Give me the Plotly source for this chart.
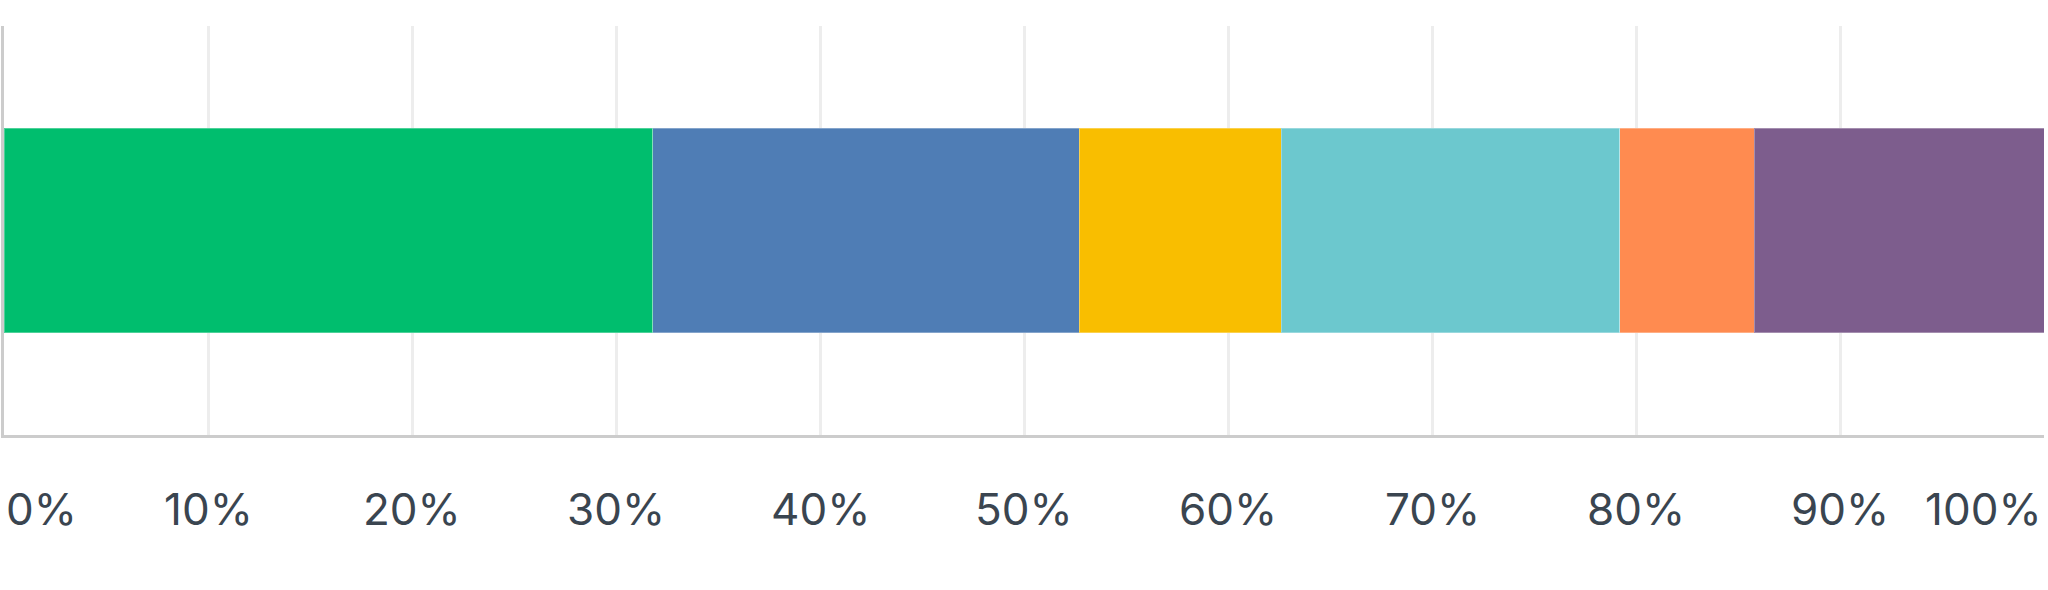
import plotly.graph_objects as go

# one stacked 100% bar, share of each segment
segments = ["A", "B", "C", "D", "E", "F"]
shares = [31.8, 20.9, 9.9, 16.6, 6.6, 14.2]
colors = ["#00be6e", "#4f7db5", "#f9be00", "#6cc8ce", "#ff8b50", "#7d5d8d"]

tick_vals = [0, 10, 20, 30, 40, 50, 60, 70, 80, 90, 100]
tick_text = ["0%", "10%", "20%", "30%", "40%", "50%", "60%", "70%", "80%", "90%", "100%"]

fig = go.Figure()

for name, val, col in zip(segments, shares, colors):
    fig.add_trace(
        go.Bar(
            x=[val],
            y=["row"],
            orientation="h",
            name=name,
            marker=dict(color=col, line=dict(color="rgba(255,255,255,0.3)", width=1)),
            hovertemplate=name + ": %{x}%<extra></extra>",
        )
    )

# tick labels as annotations so the end ones stay inside the plot
for v, t in zip(tick_vals, tick_text):
    anchor = "center"
    if v == tick_vals[0]:
        anchor = "left"
    elif v == tick_vals[-1]:
        anchor = "right"
    fig.add_annotation(
        x=v, y=0, xref="x", yref="paper",
        text=t, showarrow=False,
        xanchor=anchor, yanchor="middle", yshift=-74,
        font=dict(family="Inter", size=44, color="#3a4550"),
    )

fig.update_layout(
    barmode="stack",
    bargap=0.5,
    width=2048,
    height=590,
    margin=dict(l=4, r=4, t=26, b=155),
    showlegend=False,
    plot_bgcolor="white",
    paper_bgcolor="white",
)

fig.update_xaxes(
    range=[0, 100],
    tickvals=tick_vals,
    showticklabels=False,
    showgrid=True,
    gridcolor="#ededed",
    gridwidth=3,
    zeroline=False,
    showline=True,
    linecolor="#cccccc",
    linewidth=3,
    fixedrange=True,
)
fig.update_yaxes(
    showticklabels=False,
    showgrid=False,
    zeroline=False,
    showline=True,
    linecolor="#cccccc",
    linewidth=3,
    fixedrange=True,
)

# drop the browser's default body margin so the figure sits at the page corner
fig.write_html(
    "out.html",
    config={"displayModeBar": False},
    post_script="document.body.style.margin='0';",
)
